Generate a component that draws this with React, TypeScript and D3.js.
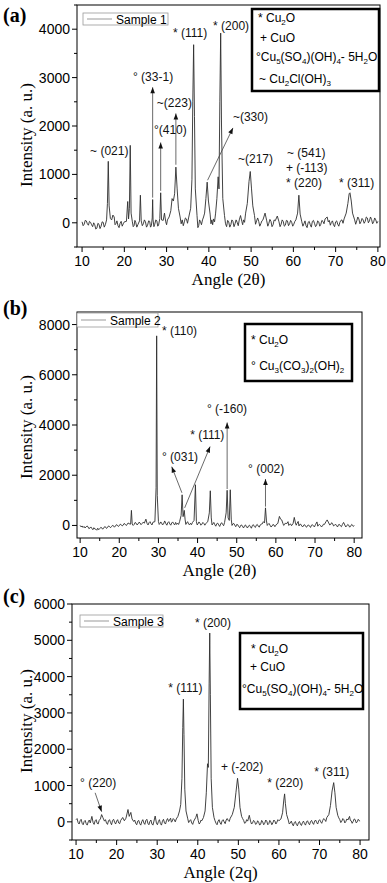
import * as d3 from "d3";

type Pt = [number, number];
// [text, angle, intensity]
type Label = [string, number, number];
// [fromAngle, fromIntensity, toAngle, toIntensity]
type Arrow = [number, number, number, number];

const ANGLE_TICKS = [10, 20, 30, 40, 50, 60, 70, 80];
const ANGLE_MINOR = [15, 25, 35, 45, 55, 65, 75];

// ---- Sample 1 ----
const SAMPLE1: Pt[] = [
  [10.0, 20], [10.25, -60], [10.5, -30], [10.75, 50], [11.0, 40], [11.25, -20], [11.5, -50], [11.75, 30], [12.0, 10], [12.25, -40], [12.5, -80], [12.75, 0], [13.0, -40], [13.25, -130], [13.5, -110],
  [13.75, -10], [14.0, -30], [14.25, -120], [14.5, -70], [14.75, 20], [15.0, 10], [15.25, -90], [15.5, -40], [15.8, 60], [16.0, 400], [16.2, 1270], [16.4, 350],
  [16.7, 90], [17.0, 60], [17.3, 160], [17.6, 120], [17.8, -40], [18.0, -20], [18.25, 40], [18.5, -60], [18.75, -100], [19.0, -10], [19.25, 30], [19.5, -70], [19.75, -20],
  [20.0, 20], [20.5, 30], [20.8, 440], [21.0, 80], [21.2, 300], [21.4, 1600], [21.6, 200], [21.9, 20],
  [22.1, -80], [22.3, -60], [22.5, 50], [22.7, 10], [22.95, -90], [23.2, -40], [23.6, 40], [23.8, 570], [24.0, 40], [24.25, -60], [24.5, -20], [24.75, 60], [25.0, 20], [25.25, -90],
  [25.5, -50], [25.75, 40], [26.0, 30], [26.2, -90], [26.4, -60], [26.6, 100], [26.7, 480], [26.8, 60], [27.0, -80], [27.2, -30], [27.45, 60], [27.7, 40], [27.9, -70],
  [28.1, -50], [28.4, 90], [28.6, 620], [28.8, 60], [29.2, 50], [29.5, 200], [29.8, 20], [30.0, -40], [30.2, 60],
  [30.6, 120], [31.0, 250], [31.3, 500], [31.6, 450], [31.9, 600], [32.2, 1150], [32.5, 700], [32.8, 300],
  [33.2, 120], [33.45, -20], [33.7, 60], [33.95, -60], [34.2, 20], [34.45, 100], [34.7, 80], [34.95, -10], [35.2, 100], [35.7, 300], [36.0, 900], [36.2, 2500],
  [36.4, 3680], [36.6, 2200], [36.8, 700], [37.2, 150], [37.4, -100], [37.6, -60], [37.8, 60], [38.0, 30], [38.25, -40], [38.5, 60], [38.75, 120], [39.0, 200],
  [39.3, 500], [39.6, 840], [39.9, 450], [40.3, 180], [40.5, -20], [40.7, 60], [40.9, -40], [41.1, 80], [41.35, 20], [41.6, 200], [41.9, 500],
  [42.2, 950], [42.4, 700], [42.6, 2500], [42.8, 3920], [43.0, 2000], [43.3, 500], [43.7, 150], [43.95, -20], [44.2, -80], [44.45, 50],
  [44.7, 20], [44.95, -90], [45.2, -40], [45.45, 60], [45.7, 30], [45.95, -80], [46.2, -20], [46.45, 60], [46.7, 10], [46.95, -60], [47.2, 60], [47.5, 150], [47.8, 30],
  [48.0, -40], [48.2, 60], [48.45, 10], [48.7, 200], [49.1, 400], [49.5, 850], [49.8, 1060], [50.1, 700], [50.4, 350], [50.8, 150],
  [51.05, -30], [51.3, 40], [51.55, 100], [51.8, 30], [52.05, -70], [52.3, -20], [52.55, 40], [52.8, 60], [53.3, 200], [53.7, 40], [53.95, -70], [54.2, -10], [54.45, 70], [54.7, 30],
  [54.95, -80], [55.2, -40], [55.45, 60], [55.7, 40], [56.2, 140], [56.6, 20], [56.85, -80], [57.1, -30], [57.35, 60], [57.6, 30], [57.85, -70], [58.1, -50], [58.35, 50], [58.6, 40],
  [58.85, -60], [59.1, -20], [59.35, 50], [59.6, 10], [59.85, -70], [60.1, -30], [60.35, 30], [60.6, 60], [61.0, 200], [61.3, 570], [61.6, 180], [62.0, 20],
  [62.25, -70], [62.5, -20], [62.75, 40], [63.0, -60], [63.25, -100], [63.5, 10], [63.75, 30], [64.0, -40], [64.25, -90], [64.5, 30], [64.75, 50], [65.0, -10], [65.25, -80], [65.5, -50], [65.75, 40], [66.0, 20],
  [66.25, -70], [66.5, -30], [66.75, 50], [67.0, 30], [67.25, -20], [67.5, 80], [68.0, 120], [68.25, 20], [68.5, 50], [68.75, -50], [69.0, 10], [69.25, 40], [69.5, -40], [69.75, -80], [70.0, 20],
  [70.25, 40], [70.5, -30], [70.75, -70], [71.0, 10], [71.25, 50], [71.5, 60], [71.75, -10], [72.0, 80], [72.5, 200], [72.9, 400], [73.2, 600], [73.4, 620],
  [73.7, 450], [74.0, 200], [74.5, 60], [74.75, -30], [75.0, 40], [75.25, 120], [75.5, 80], [75.75, -20], [76.0, 20], [76.25, 90], [76.5, 60], [76.75, -10], [77.0, 30],
  [77.25, 120], [77.5, 100], [77.75, 0], [78.0, 40], [78.25, 120], [78.5, 70], [78.75, -20], [79.0, 20], [79.25, 100], [79.5, 60], [79.75, -10], [80.0, 30],
];
const LABELS1: Label[] = [
  ["* (111)", 31.5, 3840], ["* (200)", 41.0, 3980], ["° (33-1)", 22.05, 2930], ["~(223)", 27.7, 2390],
  ["°(410)", 27.0, 1835], ["~(330)", 45.7, 2100], ["~ (021)", 11.9, 1400], ["~(217)", 46.9, 1235],
  ["~ (541)", 58.5, 1360], ["+ (-113)", 58.25, 1050], ["* (220)", 58.25, 740], ["* (311)", 70.8, 740],
];
const ARROWS1: Arrow[] = [
  [26.7, 520, 26.7, 2800], [28.6, 660, 28.6, 1660], [32.2, 1200, 32.2, 2260], [39.7, 880, 45.7, 1960],
];
const PHASES1 = [["* Cu", "2", "O"], ["+ CuO"], ["°Cu", "5", "(SO", "4", ")(OH)", "4", "- 5H", "2", "O"], ["~ Cu", "2", "Cl(OH)", "3"]];
const INT_TICKS1 = [0, 1000, 2000, 3000, 4000];
const INT_MINOR1 = [-500, 500, 1500, 2500, 3500, 4500];

// ---- Sample 2 ----
const SAMPLE2: Pt[] = [
  [10.0, 0], [10.25, -60], [10.5, -20], [10.75, -80], [11.0, -40], [11.25, -100], [11.5, -60], [11.75, -20], [12.0, -50], [12.25, -130], [12.5, -100], [12.75, -60], [13.0, -120], [13.25, -170], [13.5, -90],
  [13.75, -140], [14.0, -150], [14.25, -190], [14.5, -110], [14.75, -170], [15.0, -130], [15.25, -80], [15.5, -90], [15.75, -150], [16.0, -110], [16.25, -50], [16.5, -60], [16.75, -120], [17.0, -80], [17.25, -20], [17.5, -40],
  [17.75, -90], [18.0, -50], [18.25, 0], [18.5, -10], [18.75, -70], [19.0, -30], [19.25, 30], [19.5, 10], [19.75, -40], [20.0, -10], [20.25, 50], [20.5, 30], [20.75, -20], [21.0, 10], [21.25, 80], [21.5, 50],
  [21.75, 0], [22.0, 30], [22.25, 100], [22.5, 70], [22.9, 50], [23.1, 600], [23.3, 60], [23.55, 0], [23.8, 40], [24.05, 120], [24.3, 90], [24.55, 20], [24.8, 60],
  [25.05, 130], [25.3, 100], [25.55, 30], [25.8, 70], [26.1, 130], [26.4, 90], [26.8, 250], [27.1, 80], [27.35, 20], [27.6, 110], [27.85, 150], [28.1, 70], [28.35, 20], [28.6, 130],
  [29.1, 150], [29.4, 1500], [29.55, 7550], [29.7, 1200], [30.0, 160], [30.2, 40], [30.4, 80], [30.6, 140], [30.8, 100], [31.05, 20], [31.3, 60],
  [31.6, 180], [31.9, 70], [32.15, 10], [32.4, 110], [32.65, 150], [32.9, 60], [33.15, 10], [33.4, 100], [33.65, 140], [33.9, 70], [34.15, 20], [34.4, 120], [34.65, 40], [34.9, 90],
  [35.15, 40], [35.4, 150], [35.8, 400], [36.05, 1220], [36.3, 350], [36.6, 600], [36.8, 250], [37.0, 40], [37.2, 100], [37.45, 150], [37.7, 60], [37.95, 20],
  [38.2, 90], [38.45, 30], [38.7, 120], [39.1, 200], [39.45, 1620], [39.7, 150], [39.9, 20], [40.1, 60], [40.35, 140], [40.6, 90], [40.85, 10], [41.1, 50],
  [41.35, 120], [41.6, 80], [41.85, 10], [42.1, 70], [42.35, 120], [42.6, 150], [43.0, 500], [43.25, 1380], [43.5, 300], [43.7, 20], [43.9, 60], [44.15, 120], [44.4, 30],
  [44.65, -30], [44.9, 70], [45.15, 90], [45.4, 20], [45.65, -40], [45.9, 60], [46.15, 110], [46.4, 40], [46.65, -10], [46.9, 120], [47.3, 500], [47.55, 1400], [47.8, 300],
  [48.1, 200], [48.35, 1420], [48.6, 250], [48.8, 0], [49.0, 60], [49.25, 80], [49.5, 10], [49.75, -50], [50.0, 40], [50.25, 30], [50.5, -40], [50.75, -90], [51.0, 0],
  [51.25, 20], [51.5, -50], [51.75, -100], [52.0, -10], [52.25, 20], [52.5, -60], [52.75, -100], [53.0, -20], [53.25, 10], [53.5, -50], [53.75, -110], [54.0, 0], [54.25, 30], [54.5, -40], [54.75, -80], [55.0, 10],
  [55.25, 40], [55.5, -30], [55.75, -70], [56.0, 20], [56.25, 50], [56.5, 60], [56.8, 150], [57.1, 100], [57.35, 700], [57.6, 180], [57.8, 0], [58.0, 40],
  [58.25, 80], [58.5, 10], [58.75, -60], [59.0, -30], [59.25, 40], [59.5, 20], [59.75, -50], [60.0, 10], [60.25, 60], [60.5, 80], [60.9, 360], [61.2, 250], [61.5, 220],
  [61.8, 80], [62.0, 0], [62.2, 30], [62.45, 100], [62.7, 60], [63.1, 150], [63.3, 0], [63.5, 40], [63.75, 60], [64.0, -10], [64.4, 80], [64.7, 320],
  [65.0, 100], [65.2, 10], [65.4, 80], [65.7, 160], [65.9, -20], [66.1, 40], [66.35, 50], [66.6, -20], [66.85, -60], [67.1, 10], [67.35, 30], [67.6, -40], [67.85, -70], [68.1, 0],
  [68.35, 20], [68.6, -30], [68.85, -80], [69.1, 10], [69.35, 30], [69.6, -20], [69.85, -60], [70.1, 30], [70.5, 140], [70.7, -30], [70.9, 20], [71.15, 40], [71.4, 0], [71.65, -60], [71.9, -20],
  [72.15, 50], [72.4, 40], [72.8, 150], [73.1, 220], [73.5, 100], [73.75, 20], [74.0, 40], [74.25, 110], [74.5, 60], [74.75, -20], [75.0, 10], [75.25, 50], [75.5, -10], [75.75, -60],
  [76.0, 30], [76.25, 40], [76.5, -20], [76.75, -50], [77.0, 40], [77.3, 120], [77.6, 20], [77.85, -60], [78.1, -20], [78.35, 40], [78.6, 10], [78.85, -70], [79.1, -30],
  [79.35, 40], [79.6, 10], [79.8, -40], [80.0, 0],
];
const LABELS2: Label[] = [
  ["* (110)", 30.9, 7580], ["° (-160)", 42.4, 4480], ["* (111)", 38.1, 3440], ["° (031)", 30.9, 2570],
  ["° (002)", 52.9, 2090],
];
const ARROWS2: Arrow[] = [
  [36.0, 1300, 33.4, 2340], [36.7, 700, 43.2, 3140], [47.55, 1450, 47.55, 4100], [57.35, 750, 57.35, 1850],
];
const PHASES2 = [["* Cu", "2", "O"], ["° Cu", "3", "(CO", "3", ")", "2", "(OH)", "2"]];
const INT_TICKS2 = [0, 2000, 4000, 6000, 8000];
const INT_MINOR2 = [1000, 3000, 5000, 7000];

// ---- Sample 3 ----
const SAMPLE3: Pt[] = [
  [10.0, 60], [10.25, 90], [10.5, -20], [10.75, -60], [11.0, 30], [11.25, 70], [11.5, -40], [11.75, -80], [12.0, 10], [12.25, 40], [12.5, -50], [12.75, -90], [13.0, 0], [13.25, 50], [13.5, -30],
  [13.9, 150], [14.2, -20], [14.45, -70], [14.7, 30], [14.95, 60], [15.2, -40], [15.45, -60], [15.7, 40], [16.0, 80], [16.3, 200], [16.6, 120],
  [17.0, 20], [17.25, 60], [17.5, -30], [17.75, -70], [18.0, 30], [18.25, 60], [18.5, -20], [18.75, -80], [19.0, 40], [19.25, 70], [19.5, -10], [19.75, -60], [20.0, 20], [20.25, 60], [20.5, -30], [20.75, -50],
  [21.0, 40], [21.5, 120], [21.9, 30], [22.3, 100], [22.8, 340], [23.1, 150], [23.5, 260], [23.8, 80],
  [24.2, 10], [24.45, 50], [24.7, -40], [24.95, -80], [25.2, 20], [25.45, 40], [25.7, -50], [25.95, -90], [26.2, 10], [26.45, 60], [26.7, -30], [26.95, -70], [27.2, 40], [27.45, 70], [27.7, -40],
  [27.95, -80], [28.2, 10], [28.45, 50], [28.7, -60], [28.95, -90], [29.2, 20], [29.5, 160], [29.8, -30], [30.05, -80], [30.3, 10], [30.55, 60], [30.8, -50], [31.05, -90], [31.3, 20],
  [31.55, 70], [31.8, -30], [32.05, -60], [32.3, 40], [32.55, 90], [32.8, 10], [33.3, 100], [33.5, -10], [33.7, 20], [33.95, 90], [34.2, 60], [34.45, 0], [34.7, 80], [35.1, 150],
  [35.5, 300], [35.8, 480], [36.1, 1200], [36.3, 2600], [36.45, 3380], [36.6, 2400], [36.8, 900], [37.1, 300],
  [37.5, 100], [37.75, -20], [38.0, 30], [38.25, 60], [38.5, -30], [38.75, -70], [39.0, 20], [39.5, 120], [39.8, 220], [40.1, 40], [40.35, -60], [40.6, -20],
  [40.8, 50], [41.0, 30], [41.4, 120], [41.8, 300], [42.1, 800], [42.4, 1600], [42.6, 1500], [42.8, 3800], [42.95, 5200],
  [43.1, 3500], [43.3, 1200], [43.6, 400], [44.0, 120], [44.25, 30], [44.5, -40], [44.75, -80], [45.0, 20], [45.25, 60], [45.5, -30], [45.75, -70], [46.0, 30],
  [46.25, 60], [46.5, 0], [46.75, -50], [47.0, 50], [47.25, 90], [47.5, 40], [47.75, 10], [48.0, 100], [48.5, 200], [49.0, 400], [49.4, 800], [49.8, 1200],
  [50.1, 900], [50.4, 400], [50.8, 150], [51.05, 90], [51.3, 40], [51.55, -40], [51.8, -20], [52.05, 60], [52.3, 20], [52.7, 180], [53.0, 20], [53.25, -60],
  [53.5, -30], [53.75, 40], [54.0, 10], [54.25, -70], [54.5, -50], [54.75, 30], [55.0, -10], [55.25, -90], [55.5, -60], [55.75, 40], [56.0, 0], [56.25, -80], [56.5, -40], [56.75, 50], [57.0, 20],
  [57.25, -80], [57.5, -50], [57.75, 40], [58.0, 0], [58.25, -80], [58.5, -30], [58.75, 50], [59.0, 20], [59.25, -60], [59.5, -10], [59.75, 60], [60.0, 30], [60.5, 80], [60.9, 250],
  [61.2, 600], [61.4, 770], [61.6, 500], [61.9, 200], [62.3, 50], [62.55, -60], [62.8, -30], [63.05, 20], [63.3, -60], [63.55, -110], [63.8, -20],
  [64.05, 10], [64.3, -70], [64.55, -110], [64.8, -30], [65.05, 10], [65.3, -60], [65.55, -100], [65.8, -20], [66.05, 20], [66.3, -50], [66.55, -90], [66.8, 0], [67.05, 30], [67.3, -40], [67.55, -80], [67.8, 10],
  [68.05, 40], [68.3, -30], [68.55, -70], [68.8, 20], [69.05, 50], [69.3, -20], [69.55, -60], [69.8, 30], [70.05, 60], [70.3, 0], [70.55, -40], [70.8, 40], [71.05, 90], [71.3, 60], [71.55, 10], [71.8, 120],
  [72.3, 200], [72.7, 450], [73.1, 850], [73.5, 1080], [73.8, 800], [74.1, 400], [74.5, 180], [74.75, 110], [75.0, 60],
  [75.25, -20], [75.5, 20], [75.75, 90], [76.0, 60], [76.25, -30], [76.5, 10], [76.75, 80], [77.0, 50], [77.4, 150], [77.6, 40], [77.8, 30], [78.05, -40], [78.3, 10], [78.55, 80], [78.8, 60],
  [79.05, -30], [79.3, 0], [79.55, 70], [79.8, 30], [80.0, 20],
];
const LABELS3: Label[] = [
  ["* (200)", 39.3, 5360], ["* (111)", 32.7, 3590], ["° (220)", 11.0, 970], ["+ (-202)", 45.7, 1410],
  ["* (220)", 57.1, 970], ["* (311)", 68.7, 1270],
];
const ARROWS3: Arrow[] = [[14.7, 800, 16.3, 280]];
const PHASES3 = [["* Cu", "2", "O"], ["+ CuO"], ["°Cu", "5", "(SO", "4", ")(OH)", "4", "- 5H", "2", "O"]];
const INT_TICKS3 = [0, 1000, 2000, 3000, 4000, 5000, 6000];
const INT_MINOR3 = [-500, 500, 1500, 2500, 3500, 4500, 5500];

const SANS = "'Liberation Sans', Arial, sans-serif";
const SERIF = "'Liberation Serif', 'Times New Roman', serif";

interface Spec {
  tag: string;
  sample: string;
  data: Pt[];
  labels: Label[];
  arrows: Arrow[];
  phases: string[][];
  yTicks: number[];
  yMinor: number[];
  xDomain: [number, number];
  yDomain: [number, number];
  frame: { l: number; r: number; t: number; b: number };
  xTitle: string;
  yTitleY: number;
  tagY: number;
  sampleBox: { x: number; y: number; w: number; h: number };
  phaseBox: { x: number; y: number; w: number; h: number; tx: number[]; ty: number[] };
}

const specs: Spec[] = [
  {
    tag: "(a)", sample: "Sample 1", data: SAMPLE1, labels: LABELS1, arrows: ARROWS1, phases: PHASES1,
    yTicks: INT_TICKS1, yMinor: INT_MINOR1, xDomain: [8.8, 80.5], yDomain: [-500, 4500],
    frame: { l: 77, r: 380, t: 5, b: 247 }, xTitle: "Angle (2θ)", yTitleY: 135, tagY: 22,
    sampleBox: { x: 83, y: 13, w: 85, h: 12 },
    phaseBox: { x: 252, y: 9, w: 127, h: 82, tx: [258, 260, 256, 259], ty: [22, 42, 61, 83] },
  },
  {
    tag: "(b)", sample: "Sample 2", data: SAMPLE2, labels: LABELS2, arrows: ARROWS2, phases: PHASES2,
    yTicks: INT_TICKS2, yMinor: INT_MINOR2, xDomain: [9.2, 82], yDomain: [-500, 8500],
    frame: { l: 77, r: 362, t: 312, b: 538 }, xTitle: "Angle (2θ)", yTitleY: 427, tagY: 315,
    sampleBox: { x: 77, y: 313, w: 81, h: 14 },
    phaseBox: { x: 245, y: 324, w: 107, h: 57, tx: [251, 251], ty: [344, 370] },
  },
  {
    tag: "(c)", sample: "Sample 3", data: SAMPLE3, labels: LABELS3, arrows: ARROWS3, phases: PHASES3,
    yTicks: INT_TICKS3, yMinor: INT_MINOR3, xDomain: [9, 82.2], yDomain: [-500, 6000],
    frame: { l: 72, r: 369, t: 604, b: 840 }, xTitle: "Angle (2q)", yTitleY: 721, tagY: 603,
    sampleBox: { x: 80, y: 615, w: 83, h: 12 },
    phaseBox: { x: 240, y: 633, w: 123, h: 76, tx: [251, 250, 242], ty: [653, 671, 693] },
  },
];

function arrowHead(x1: number, y1: number, x2: number, y2: number) {
  const a = Math.atan2(y2 - y1, x2 - x1);
  const len = 6, hw = 2.3;
  const bx = x2 - len * Math.cos(a), by = y2 - len * Math.sin(a);
  const px = -Math.sin(a) * hw, py = Math.cos(a) * hw;
  return `${x2},${y2} ${bx + px},${by + py} ${bx - px},${by - py}`;
}

function Panel({ s, idx }: { s: Spec; idx: number }) {
  const { l, r, t, b } = s.frame;
  const x = d3.scaleLinear().domain(s.xDomain).range([l, r]);
  const y = d3.scaleLinear().domain(s.yDomain).range([b, t]);
  const line = d3.line<Pt>().x((d) => x(d[0])).y((d) => y(d[1]));
  const clipId = `clip${idx}`;
  const sb = s.sampleBox;
  const pb = s.phaseBox;
  return (
    <g>
      <defs>
        <clipPath id={clipId}>
          <rect x={l} y={t} width={r - l} height={b - t} />
        </clipPath>
      </defs>
      <text x={3} y={s.tagY} fontFamily={SERIF} fontWeight="bold" fontSize={20}>{s.tag}</text>

      <path d={line(s.data) ?? ""} fill="none" stroke="#2e2e2e" strokeWidth={0.9} strokeLinejoin="round" clipPath={`url(#${clipId})`} />

      {s.arrows.map((a, i) => {
        const x1 = x(a[0]), y1 = y(a[1]), x2 = x(a[2]), y2 = y(a[3]);
        return (
          <g key={i}>
            <line x1={x1} y1={y1} x2={x2} y2={y2} stroke="#444" strokeWidth={0.8} />
            <polygon points={arrowHead(x1, y1, x2, y2)} fill="#111" />
          </g>
        );
      })}

      {s.labels.map((d, i) => (
        <text key={i} x={x(d[1])} y={y(d[2])} fontFamily={SANS} fontSize={12} fill="#111">{d[0]}</text>
      ))}

      <rect x={l} y={t} width={r - l} height={b - t} fill="none" stroke="#000" strokeWidth={1} />

      {/* x axis */}
      {ANGLE_TICKS.map((v) => (
        <g key={`xt${v}`}>
          <line x1={x(v)} x2={x(v)} y1={b} y2={b + 5} stroke="#000" />
          <text x={x(v)} y={b + 19} textAnchor="middle" fontFamily={SANS} fontSize={14}>{v}</text>
        </g>
      ))}
      {ANGLE_MINOR.map((v) => (
        <line key={`xm${v}`} x1={x(v)} x2={x(v)} y1={b} y2={b + 3} stroke="#000" />
      ))}
      <text x={(l + r) / 2} y={b + 38} textAnchor="middle" fontFamily={SERIF} fontSize={17}>{s.xTitle}</text>

      {/* y axis */}
      {s.yTicks.map((v) => (
        <g key={`yt${v}`}>
          <line x1={l - 5} x2={l} y1={y(v)} y2={y(v)} stroke="#000" />
          <text x={l - 7} y={y(v) + 5} textAnchor="end" fontFamily={SANS} fontSize={14}>{v}</text>
        </g>
      ))}
      {s.yMinor.map((v) => (
        <line key={`ym${v}`} x1={l - 3} x2={l} y1={y(v)} y2={y(v)} stroke="#000" />
      ))}
      <text transform={`translate(32,${s.yTitleY}) rotate(-90)`} textAnchor="middle" fontFamily={SERIF} fontSize={17}>
        Intensity (a. u.)
      </text>

      {/* sample legend */}
      <rect x={sb.x} y={sb.y} width={sb.w} height={sb.h} fill="#fff" stroke="#999" strokeWidth={0.8} />
      <line x1={sb.x + 4} x2={sb.x + 29} y1={sb.y + sb.h / 2} y2={sb.y + sb.h / 2} stroke="#aaa" strokeWidth={1.2} />
      <text x={sb.x + 33} y={sb.y + sb.h / 2 + 4.5} fontFamily={SANS} fontSize={12}>{s.sample}</text>

      {/* phase legend */}
      <rect x={pb.x} y={pb.y} width={pb.w} height={pb.h} fill="#fff" stroke="#000" strokeWidth={2.5} />
      {s.phases.map((segs, i) => (
        <text key={i} x={pb.tx[i]} y={pb.ty[i]} fontFamily={SANS} fontSize={12}>
          {segs.map((seg, j) => (
            <tspan key={j} fontSize={j % 2 ? 8 : 12} dy={j === 0 ? 0 : j % 2 ? 3 : -3}>{seg}</tspan>
          ))}
        </text>
      ))}
    </g>
  );
}

export default function App() {
  return (
    <svg width={387} height={883} style={{ position: "absolute", left: 0, top: 0, background: "#fff" }}>
      {specs.map((s, i) => (
        <Panel key={i} s={s} idx={i} />
      ))}
    </svg>
  );
}
